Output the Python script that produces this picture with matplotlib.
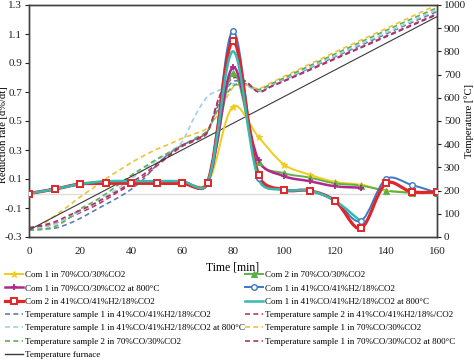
import numpy as np
import matplotlib
matplotlib.use("Agg")
import matplotlib.pyplot as plt
from matplotlib.path import Path
from matplotlib.patches import PathPatch
from matplotlib.lines import Line2D

plt.rcParams['font.family'] = ['Liberation Serif', 'DejaVu Serif']
plt.rcParams['axes.unicode_minus'] = False

# ---------------- data ----------------
t_rate = [0, 10, 20, 30, 40, 50, 60, 70, 80, 90, 100, 110, 120, 130, 140, 150, 160]

com1_70co = [0.0, 0.03, 0.065, 0.08, 0.08, 0.08, 0.08, 0.07, 0.60, 0.39, 0.20, 0.13, 0.08, 0.06, 0.02, 0.01, 0.005]
com2_70co = [0.0, 0.03, 0.065, 0.08, 0.08, 0.08, 0.08, 0.07, 0.83, 0.22, 0.14, 0.11, 0.07, 0.055, 0.02, 0.005, 0.005]
com1_70co_800 = [0.0, 0.03, 0.065, 0.075, 0.08, 0.08, 0.08, 0.07, 0.87, 0.23, 0.12, 0.085, 0.05, 0.04]
com1_41co = [0.0, 0.03, 0.065, 0.08, 0.08, 0.08, 0.08, 0.07, 1.12, 0.11, 0.03, 0.02, -0.05, -0.19, 0.10, 0.06, 0.005]
com2_41co = [0.0, 0.03, 0.065, 0.07, 0.07, 0.07, 0.07, 0.075, 1.05, 0.13, 0.025, 0.02, -0.05, -0.24, 0.07, 0.012, 0.01]
com1_41co_800 = [0.0, 0.03, 0.065, 0.085, 0.085, 0.085, 0.085, 0.07, 0.98, 0.10, 0.025, 0.02, -0.05, -0.19]

t_temp = [0, 5, 10, 15, 20, 25, 30, 35, 40, 45, 50, 55, 60, 65, 70, 75, 80, 85,
          90, 95, 100, 105, 110, 115, 120, 125, 130, 135, 140, 145, 150, 155, 160]

temp_s1_41co = [35, 35, 38, 55, 80, 110, 140, 170, 205, 250, 310, 360, 395, 420, 455, 590, 670, 660,
                630, 654, 679, 703, 728, 752, 777, 801, 826, 850, 875, 900, 924, 948, 972]
temp_s2_41co = [40, 45, 58, 80, 105, 130, 160, 195, 225, 260, 305, 350, 390, 415, 450, 610, 685, 670,
                627, 650, 674, 698, 722, 746, 770, 794, 818, 842, 866, 890, 914, 938, 962]
temp_s1_41co_800 = [35, 40, 55, 80, 110, 140, 175, 210, 250, 290, 330, 365, 410, 520, 605, 635, 660, 652,
                    632, 656, 681, 706, 731, 756, 781, 806, 831, 856, 880, 905, 930, 955, 978]
temp_s1_70co = [35, 55, 90, 130, 172, 210, 250, 285, 320, 350, 378, 400, 425, 445, 470, 545, 645, 655,
                640, 665, 692, 718, 745, 770, 797, 822, 848, 873, 898, 924, 950, 975, 1000]
temp_s2_70co = [30, 32, 45, 75, 120, 150, 185, 225, 265, 300, 335, 365, 395, 425, 460, 570, 650, 658,
                636, 660, 686, 712, 738, 763, 789, 814, 840, 865, 890, 915, 940, 964, 988]
temp_s1_70co_800 = [40, 50, 65, 90, 115, 140, 170, 200, 235, 270, 315, 355, 395, 420, 455, 615, 690, 670,
                    625, 648, 671, 695, 719, 743, 767, 791, 815, 839, 863, 887, 911, 935, 958]

t_furnace = [0, 80, 160]
temp_furnace = [30, 490, 950]

rate_ticks = [-0.3, -0.1, 0.1, 0.3, 0.5, 0.7, 0.9, 1.1, 1.3]

# ---------------- figure ----------------
W, H = 474, 360
fig = plt.figure(figsize=(W / 100, H / 100), dpi=100)
ax = fig.add_axes([29 / W, 1 - 237 / H, (437 - 29) / W, (237 - 5) / H])
ax.set_xlim(0, 160)
ax.set_ylim(-0.3, 1.3)
ax2 = ax.twinx()
ax2.set_ylim(0, 1000)


def smooth_path(axis, xs, ys):
    """Excel-like smoothed line through the data points (Bezier)."""
    tr = axis.transData
    P = tr.transform(np.column_stack([xs, ys]).astype(float))
    n = len(P)
    verts = [P[0]]
    codes = [Path.MOVETO]
    for i in range(n - 1):
        p0 = P[i - 1] if i > 0 else P[i]
        p1 = P[i]
        p2 = P[i + 1]
        p3 = P[i + 2] if i + 2 < n else P[i + 1]
        d01 = np.hypot(*(p1 - p0))
        d12 = np.hypot(*(p2 - p1))
        d23 = np.hypot(*(p3 - p2))
        s1 = min(1.5, np.sqrt(2 * d12 / (d01 + d12))) if d01 + d12 > 0 else 1
        s2 = min(1.5, np.sqrt(2 * d12 / (d12 + d23))) if d12 + d23 > 0 else 1
        c1 = p1 + (p2 - p0) / 6 * s1
        c2 = p2 - (p3 - p1) / 6 * s2
        verts += [c1, c2, p2]
        codes += [Path.CURVE4] * 3
    verts = tr.inverted().transform(np.array(verts))
    return Path(verts, codes)


# colours
c_yel = '#F2CC1A'
c_grn = '#5CB24A'
c_mag = '#B0288C'
c_blu = '#3F78C4'
c_red = '#E0262A'
c_cya = '#36B9B0'

dash = (0, (3, 2))
d_blu = '#5A7FB5'
d_red = '#C23A58'
d_cya = '#9ED0E3'
d_yel = '#F0C23A'
d_grn = '#5DAE55'
d_mag = '#A8336E'
c_fur = '#3A3A3A'

ax.axhline(0, color='#DDDDDD', lw=1.0, zorder=1)

# temperature curves (right axis)
temps = [
    (temp_s1_41co, d_blu), (temp_s2_41co, d_red), (temp_s1_41co_800, d_cya),
    (temp_s1_70co, d_yel), (temp_s2_70co, d_grn), (temp_s1_70co_800, d_mag),
]
for vals, col in temps:
    ax2.add_patch(PathPatch(smooth_path(ax2, t_temp, vals), facecolor='none', edgecolor=col,
                            lw=1.2, linestyle=dash, zorder=2))
ax2.plot(t_furnace, temp_furnace, color=c_fur, lw=0.8, zorder=2)

# rate curves (left axis), drawn above the temperature curves
rates = [
    (com1_70co, c_yel, 1.4, '*', 5, c_yel, 0.8),
    (com2_70co, c_grn, 1.4, '^', 4, c_grn, 0.8),
    (com1_70co_800, c_mag, 1.8, '+', 5, c_mag, 1.3),
    (com1_41co, c_blu, 1.4, 'o', 4, 'white', 1.0),
    (com2_41co, c_red, 2.3, 's', 4, 'white', 1.4),
    (com1_41co_800, c_cya, 1.8, None, 0, c_cya, 1),
]
for vals, col, lw, mk, ms, mfc, mew in rates:
    tt = t_rate[:len(vals)]
    patch = PathPatch(smooth_path(ax, tt, vals), facecolor='none', edgecolor=col, lw=lw, zorder=5)
    ax2.add_artist(patch)
    patch.set_transform(ax.transData)
    if mk:
        l, = ax.plot(tt, vals, ls='none', marker=mk, ms=ms, mfc=mfc, mec=col, mew=mew)
        l.remove()
        ax2.add_line(l)
        l.set_transform(ax.transData)
        l.set_zorder(6)

# axes styling
for a in (ax, ax2):
    for s in a.spines.values():
        s.set_color('#404040')
        s.set_linewidth(1.0)
ax.set_xticks(range(0, 161, 20))
ax.set_yticks(rate_ticks)
ax.set_yticklabels([f"{v:.1f}" for v in rate_ticks])
ax2.set_yticks(range(0, 1001, 100))
ax.tick_params(axis='x', length=0, labelsize=8, pad=7, colors='#222222')
ax.tick_params(axis='y', direction='out', length=3, labelsize=8, pad=2, colors='#222222')
ax2.tick_params(axis='y', direction='out', length=3, labelsize=8, pad=2, colors='#222222')

ax.set_xlabel('Time [min]', fontsize=8.5)
ax.xaxis.set_label_coords(0.5, -0.105)
ax.set_ylabel('Reduction rate [d%/dt]', fontsize=7.6)
ax.yaxis.set_label_coords(-0.051, 0.44)
ax2.set_ylabel('Temperature [°C]', fontsize=7.6)
ax2.yaxis.set_label_coords(1.068, 0.5)

# legend
def h(col, lw, ls='-', mk=None, ms=0, mfc=None, mew=1):
    return Line2D([], [], color=col, lw=lw, ls=ls, marker=mk, ms=ms, mfc=mfc, mec=col, mew=mew)

col1 = [
    (h(c_yel, 1.4, mk='*', ms=5, mfc=c_yel, mew=0.8), 'Com 1 in 70%CO/30%CO2'),
    (h(c_mag, 1.8, mk='+', ms=5, mfc=c_mag, mew=1.3), 'Com 1 in 70%CO/30%CO2 at 800°C'),
    (h(c_red, 2.3, mk='s', ms=4, mfc='white', mew=1.4), 'Com 2 in 41%CO/41%H2/18%CO2'),
    (h(d_blu, 1.2, ls=dash), 'Temperature sample 1 in 41%CO/41%H2/18%CO2'),
    (h(d_cya, 1.2, ls=dash), 'Temperature sample 1 in 41%CO/41%H2/18%CO2 at 800°C'),
    (h(d_grn, 1.2, ls=dash), 'Temperature sample 2 in 70%CO/30%CO2'),
    (h(c_fur, 1.0), 'Temperature furnace'),
]
col2 = [
    (h(c_grn, 1.4, mk='^', ms=4, mfc=c_grn, mew=0.8), 'Com 2 in 70%CO/30%CO2'),
    (h(c_blu, 1.4, mk='o', ms=4, mfc='white', mew=1.0), 'Com 1 in 41%CO/41%H2/18%CO2'),
    (h(c_cya, 1.8), 'Com 1 in 41%CO/41%H2/18%CO2 at 800°C'),
    (h(d_red, 1.2, ls=dash), 'Temperature sample 2 in 41%CO/41%H2/18%/CO2'),
    (h(d_yel, 1.2, ls=dash), 'Temperature sample 1 in 70%CO/30%CO2'),
    (h(d_mag, 1.2, ls=dash), 'Temperature sample 1 in 70%CO/30%CO2 at 800°C'),
]
kw = dict(loc='upper left', frameon=False, fontsize=6.5, borderpad=0, borderaxespad=0,
          handlelength=2.0, handletextpad=0.25, labelspacing=0.55)
fig.legend([a for a, b in col1], [b for a, b in col1], bbox_to_anchor=(5 / W, 1 - 271 / H), **kw)
fig.legend([a for a, b in col2], [b for a, b in col2], bbox_to_anchor=(245 / W, 1 - 271 / H), **kw)

fig.savefig('out.png', dpi=100)
